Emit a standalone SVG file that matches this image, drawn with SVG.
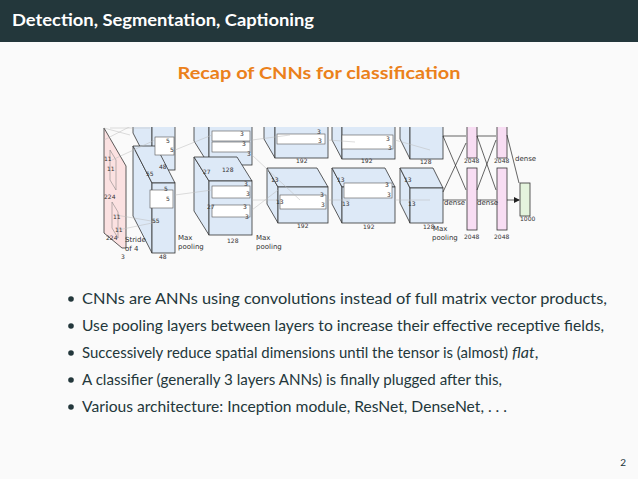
<svg xmlns="http://www.w3.org/2000/svg" width="638" height="479" viewBox="0 0 638 479">
<defs>
<style>
.t{font-family:Lato,"Noto Sans",sans-serif}
.f{font-family:"DejaVu Sans",sans-serif;font-size:6px;fill:#333}
.b{fill:#dde9f7;stroke:#333;stroke-width:0.8}
.w{fill:#fff;stroke:#555;stroke-width:0.6}
.g{stroke:#bbb;stroke-width:0.5;fill:none}
.a{stroke:#222;stroke-width:0.7;fill:none;marker-end:url(#ar)}
.d{fill:#f8ddf3;stroke:#333;stroke-width:0.8}
</style>
<marker id="ar" markerWidth="6" markerHeight="6" refX="5" refY="3" orient="auto" markerUnits="userSpaceOnUse"><path d="M0,0L6,3L0,6z" fill="#222"/></marker>
<clipPath id="c"><rect x="95" y="127" width="450" height="140"/></clipPath>
</defs>
<rect width="638" height="479" fill="#fafafa"/>
<rect width="638" height="42" fill="#23373b"/>
<text class="t" x="12" y="26" font-size="17" font-weight="bold" fill="#fff" textLength="302" lengthAdjust="spacingAndGlyphs">Detection, Segmentation, Captioning</text>
<text class="t" x="319" y="79" font-size="17" font-weight="bold" fill="#eb811b" text-anchor="middle" textLength="283" lengthAdjust="spacingAndGlyphs">Recap of CNNs for classification</text>
<g clip-path="url(#c)">
<g id="input"><polygon points="104,128 126,166 126,248 122,248 104,233" fill="#fbe1e1" stroke="#333" stroke-width="0.8"/>
<polygon points="110,150 116,160 116,190 110,180" fill="none" stroke="#777" stroke-width="0.5"/>
<polygon points="112,202 118,212 118,238 112,228" fill="none" stroke="#777" stroke-width="0.5"/></g>
<g id="conv1">
<polygon class="b" points="152,90 133,53 133,133 152,170"/><rect class="b" x="152" y="90" width="23" height="80"/>
<polygon class="b" points="152,183 133,146 133,216 152,253"/><polygon class="b" points="152,183 175,183 156,146 133,146"/><rect class="b" x="152" y="183" width="23" height="70"/>
<rect class="w" x="155" y="137" width="19" height="18"/><rect class="w" x="150" y="190" width="23" height="18"/></g>
<g id="conv2">
<polygon class="b" points="209,110 194,86 194,141 209,165"/><rect class="b" x="209" y="110" width="43" height="55"/>
<polygon class="b" points="209,181 194,157 194,211 209,235"/><polygon class="b" points="209,181 252,181 237,157 194,157"/><rect class="b" x="209" y="181" width="43" height="54"/>
<rect class="w" x="212" y="131" width="38" height="10"/><rect class="w" x="212" y="142" width="38" height="10"/>
<rect class="w" x="212" y="186" width="38" height="12"/><rect class="w" x="212" y="205" width="38" height="12"/></g>
<g id="conv3">
<polygon class="b" points="275,110 264,91 264,139 275,158"/><rect class="b" x="275" y="110" width="53" height="48"/>
<polygon class="b" points="278,187 267,168 267,204 278,223"/><polygon class="b" points="278,187 328,187 317,168 267,168"/><rect class="b" x="278" y="187" width="50" height="36"/>
<rect class="w" x="277" y="134" width="48" height="10"/><rect class="w" x="280" y="195" width="46" height="14"/></g>
<g id="conv4">
<polygon class="b" points="342,110 332,91 332,140 342,159"/><rect class="b" x="342" y="110" width="53" height="49"/>
<polygon class="b" points="342,187 332,168 332,204 342,223"/><polygon class="b" points="342,187 395,187 385,168 332,168"/><rect class="b" x="342" y="187" width="53" height="36"/>
<rect class="w" x="342" y="135" width="51" height="14"/><rect class="w" x="344" y="183" width="48" height="15"/></g>
<g id="conv5">
<polygon class="b" points="410,110 400,90 400,139 410,159"/><rect class="b" x="410" y="110" width="33" height="49"/>
<polygon class="b" points="410,188 400,168 400,203 410,223"/><polygon class="b" points="410,188 443,188 433,168 400,168"/><rect class="b" x="410" y="188" width="33" height="35"/></g>
<g id="dense">
<rect class="d" x="467" y="110" width="10" height="48"/><rect class="d" x="467" y="168" width="10" height="62"/>
<rect class="d" x="497" y="110" width="10" height="48"/><rect class="d" x="497" y="168" width="10" height="62"/>
<rect x="520" y="183" width="10" height="33" fill="#e4f4dd" stroke="#333" stroke-width="0.8"/></g>
<g id="connectors">
<path class="g" d="M104,140L133,125M112,160L155,140M116,215L157,222M118,230L157,222M175,150L212,135M175,195L212,190M252,140L290,135M252,200L282,200M252,155L300,200M252,210L278,190M328,140L355,142M328,200L350,200M395,140L430,150M395,200L430,200M110,128L150,128M104,128L130,135"/>
<path class="a" d="M443,136L466,136M443,136L466,190M443,192L466,143M443,200L466,200M477,136L496,136M477,136L496,190M477,190L496,140M477,200L496,200M507,135L519,183M507,200L519,200"/>
</g>
<g class="f">
<text x="104" y="161">11</text><text x="107" y="171">11</text><text x="104" y="199">224</text><text x="113" y="219">11</text><text x="115" y="232">11</text><text x="106" y="240">224</text>
<text x="125" y="242" font-size="7">Stride</text><text x="125" y="251" font-size="7">of 4</text><text x="121" y="259">3</text>
<text x="166" y="143">5</text><text x="170" y="152">5</text><text x="159" y="169">48</text><text x="146" y="176">55</text>
<text x="164" y="191">5</text><text x="166" y="201">5</text><text x="152" y="223">55</text><text x="159" y="259">48</text>
<text x="178" y="240" font-size="7">Max</text><text x="178" y="249" font-size="7">pooling</text>
<text x="240" y="136">3</text><text x="242" y="146">3</text><text x="247" y="156">3</text><text x="222" y="172">128</text><text x="203" y="174">27</text>
<text x="244" y="186">3</text><text x="246" y="196">3</text><text x="207" y="209">27</text><text x="243" y="209">3</text><text x="245" y="219">3</text><text x="227" y="243">128</text>
<text x="256" y="240" font-size="7">Max</text><text x="256" y="249" font-size="7">pooling</text>
<text x="317" y="134">3</text><text x="318" y="143">3</text><text x="296" y="163">192</text><text x="271" y="182">13</text>
<text x="320" y="197">3</text><text x="321" y="207">3</text><text x="276" y="204">13</text><text x="297" y="228">192</text>
<text x="386" y="141">3</text><text x="388" y="150">3</text><text x="361" y="163">192</text><text x="337" y="182">13</text>
<text x="385" y="187">3</text><text x="387" y="197">3</text><text x="342" y="206">13</text><text x="363" y="229">192</text>
<text x="420" y="164">128</text><text x="404" y="182">13</text><text x="408" y="206">13</text><text x="423" y="229">128</text>
<text x="433" y="231" font-size="7">Max</text><text x="432" y="240" font-size="7">pooling</text>
<text x="464" y="163">2048</text><text x="494" y="163">2048</text><text x="464" y="239">2048</text><text x="494" y="239">2048</text><text x="520" y="221">1000</text>
<text x="515" y="161" font-size="7">dense</text><text x="444" y="205" font-size="7">dense</text><text x="477" y="205" font-size="7">dense</text>
</g>
</g>
<g class="t" font-size="16" fill="#23373b">
<circle cx="71" cy="299" r="2.8"/><text x="82" y="304" textLength="525" lengthAdjust="spacingAndGlyphs">CNNs are ANNs using convolutions instead of full matrix vector products,</text>
<circle cx="71" cy="326" r="2.8"/><text x="82" y="331" textLength="522" lengthAdjust="spacingAndGlyphs">Use pooling layers between layers to increase their effective receptive fields,</text>
<circle cx="71" cy="353" r="2.8"/><text x="82" y="358" textLength="426" lengthAdjust="spacingAndGlyphs">Successively reduce spatial dimensions until the tensor is (almost)</text><text x="512" y="358"><tspan font-style="italic">flat</tspan>,</text>
<circle cx="71" cy="380" r="2.8"/><text x="82" y="385" textLength="420" lengthAdjust="spacingAndGlyphs">A classifier (generally 3 layers ANNs) is finally plugged after this,</text>
<circle cx="71" cy="407" r="2.8"/><text x="82" y="412" textLength="425" lengthAdjust="spacingAndGlyphs">Various architecture: Inception module, ResNet, DenseNet, . . .</text>
</g>
<text class="t" x="626" y="466" font-size="10" fill="#23373b" text-anchor="end">2</text>
</svg>
